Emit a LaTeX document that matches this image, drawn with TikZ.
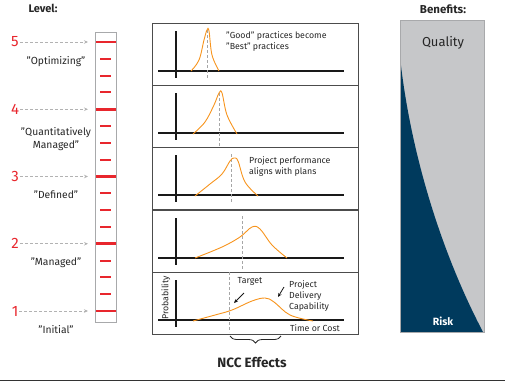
\documentclass[tikz,border=0pt]{standalone}
\usepackage{fontspec}
\setmainfont{Fira Sans}
\usetikzlibrary{arrows.meta,positioning,decorations.pathreplacing}
\definecolor{levelred}{HTML}{E8262D}
\definecolor{curveorange}{HTML}{F7941D}
\definecolor{riskblue}{HTML}{003A5D}
\definecolor{qualgray}{HTML}{C6C7C9}
\definecolor{framegray}{HTML}{A8A9AB}

\begin{document}
\begin{tikzpicture}[x=1pt, y=-1pt,
    leveltxt/.style={font=\fontsize{10.3}{12.5}\selectfont, align=center, text=black!85},
    levelnum/.style={font=\fontsize{15}{15}\selectfont, text=levelred, inner sep=1pt},
    head/.style={font=\bfseries\fontsize{11}{13}\selectfont, text=black!85},
    paneltxt/.style={font=\fontsize{8.8}{11}\selectfont, align=left, text=black!85, inner sep=0pt},
    axis/.style={line width=1.6pt, black!90},
    curve/.style={curveorange, line width=0.9pt},
    marker/.style={gray!70, dash pattern=on 3pt off 2pt, line width=0.9pt}]
    \useasboundingbox (0,0) rectangle (505,383);

    % left: levels and ruler
    \node[head] (levelhead) at (43,8) {Level:};
    \draw[framegray, line width=1pt] (95,32) rectangle (116,322);
    \foreach \k in {1,...,15} {
      \draw[levelred, line width=2pt] (100,{round(42+\k*16.81)}) -- (111,{round(42+\k*16.81)});
    }
    \foreach \n/\ty/\txt in {5/62/{"Optimizing"}, 4/139/{"Quantitatively\\Managed"},
                             3/195/{"Defined"}, 2/263/{"Managed"}, 1/330/{"Initial"}} {
      \draw[levelred, line width=2.6pt] (96,42+5*67.25-\n*67.25) -- (116,42+5*67.25-\n*67.25);
      \node[levelnum] (num\n) at (15,42+5*67.25-\n*67.25) {\n};
      \coordinate (tick\n) at (88,42+5*67.25-\n*67.25);
      \draw[gray!60, dash pattern=on 3pt off 2pt, line width=0.9pt, -{Stealth[length=4pt,width=3.5pt]}] (num\n) -- (tick\n);
      \node[leveltxt] (name\n) at (56,\ty) {\txt};
    }

    % middle: distribution panels
    \foreach \top in {23,85,147,210,272} {
      \draw[black!70, line width=0.8pt] (152,\top) rectangle (358,\top+62);
      \draw[axis] (176,\top+8) -- (176,\top+55);
      \draw[axis] (158,\top+48) -- (344,\top+48);
    }
    \draw[marker] (207,30) -- (207,79);
    \draw[curve] plot[smooth, tension=0.6] coordinates {(191,71) (199,60) (204,40) (207,30) (209,31) (212,55) (219,71)};
    \node[paneltxt, anchor=north west] (good) at (226,31) {"Good" practices become\\"Best" practices};

    \draw[marker] (219,93) -- (219,147);
    \draw[curve] plot[smooth, tension=0.6] coordinates {(193,134) (205,122) (214,105) (219,93) (222,93) (227,115) (237,134)};

    \draw[marker] (231,154) -- (231,203);
    \draw[curve] plot[smooth, tension=0.6] coordinates {(195,196) (210,184) (222,174) (230,161) (234,158) (238,161) (245,182) (258,196)};
    \node[paneltxt, anchor=north west] (aligns) at (249,156) {Project performance\\aligns with plans};

    \draw[marker] (242,216) -- (242,270);
    \draw[curve] plot[smooth, tension=0.6] coordinates {(195,258) (222,247) (240,237) (252,227) (260,229) (272,245) (287,258)};

    \draw[marker] (229,272) -- (229,332);
    \draw[curve] plot[smooth, tension=0.6] coordinates {(193,321) (215,315) (232,310) (252,301) (265,298) (274,302) (290,315) (313,321)};
    \node[paneltxt, rotate=90] (prob) at (166,298) {Probability};
    \node[paneltxt] (target) at (250,281) {Target};
    \coordinate (targettip) at (234,303);
    \draw[black!90, line width=0.8pt, -{Stealth[length=4pt,width=3.5pt]}] (244,293) -- (targettip);
    \node[paneltxt, anchor=north west] (capab) at (289,280) {Project\\Delivery\\Capability};
    \coordinate (capabtip) at (278,297);
    \draw[black!90, line width=0.8pt, -{Stealth[length=4pt,width=3.5pt]}] (284,287) -- (capabtip);
    \node[paneltxt, anchor=east] (timecost) at (340,328) {Time or Cost};

    \coordinate (braceL) at (230,336);
    \coordinate (braceR) at (281,336);
    \draw[black!85, line width=0.8pt, decoration={brace, mirror, amplitude=7pt}, decorate] (braceL) -- (braceR);
    \node[head, font=\bfseries\fontsize{13.5}{15}\selectfont] (ncc) at (252,362) {NCC Effects};

    % right: benefits bar
    \node[head, font=\bfseries\fontsize{11.5}{13}\selectfont] (benefhead) at (443,9) {Benefits:};
    \fill[qualgray] (400,20) rectangle (484,332);
    \fill[riskblue] (400,57) .. controls (410,150) and (440,250) .. (483,332) -- (400,332) -- cycle;
    \draw[framegray, line width=0.8pt] (400,20) rectangle (484,332);
    \node[font=\fontsize{13}{15}\selectfont, text=black!85] (quality) at (443,43) {Quality};
    \node[font=\bfseries\fontsize{10.5}{12}\selectfont, text=white] (risk) at (443,321) {Risk};

    \draw[black!80, line width=0.8pt] (0,380) -- (505,380);
  \end{tikzpicture}
\end{document}
